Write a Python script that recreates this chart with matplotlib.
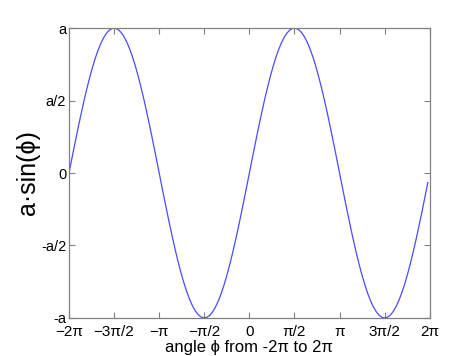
import numpy as np
import matplotlib
matplotlib.use('Agg')
import matplotlib.pyplot as plt

plt.rcParams['font.family'] = ['Liberation Sans', 'DejaVu Sans']

# sampled angle, MATLAB style -2*pi:0.1:2*pi
phi_start = -2 * np.pi
phi_step = 0.1
phi_stop = 2 * np.pi
amplitude = 1.0

xticks = [-2 * np.pi, -1.5 * np.pi, -np.pi, -0.5 * np.pi, 0,
          0.5 * np.pi, np.pi, 1.5 * np.pi, 2 * np.pi]
xticklabels = ['\u22122\u03c0', '\u22123\u03c0/2', '\u2212\u03c0', '\u2212\u03c0/2', '0',
               '\u03c0/2', '\u03c0', '3\u03c0/2', '2\u03c0']
yticks = [-1, -0.5, 0, 0.5, 1]
yticklabels = ['-a', '-a/2', '0', 'a/2', 'a']

phi = np.arange(phi_start, phi_stop, phi_step)
y = amplitude * np.sin(phi)

fig = plt.figure(figsize=(4.74, 3.56), dpi=100)
ax = fig.add_axes([0.1456, 0.107, 0.761, 0.814])

ax.plot(phi, y, color='#4a4aff', linewidth=0.9)

ax.set_xlim(-2 * np.pi, 2 * np.pi)
ax.set_ylim(-1, 1)
ax.set_xticks(xticks)
ax.set_xticklabels(xticklabels, fontsize=11)
ax.set_yticks(yticks)
ax.set_yticklabels(yticklabels, fontsize=10.5)

ax.tick_params(direction='in', length=4, width=0.8, color='#808080',
               top=True, right=True, pad=2)
ax.tick_params(axis='x', pad=5)
for s in ax.spines.values():
    s.set_color('#808080')
    s.set_linewidth(0.9)

ax.set_xlabel('angle \u03d5 from -2\u03c0 to 2\u03c0', fontsize=12, labelpad=1,
              family=['Liberation Sans', 'DejaVu Sans'])
ax.set_ylabel('a\u00b7sin(\u03d5)', fontsize=18, labelpad=1,
              family=['Liberation Sans', 'DejaVu Sans'])

fig.savefig('out.png', dpi=100)
